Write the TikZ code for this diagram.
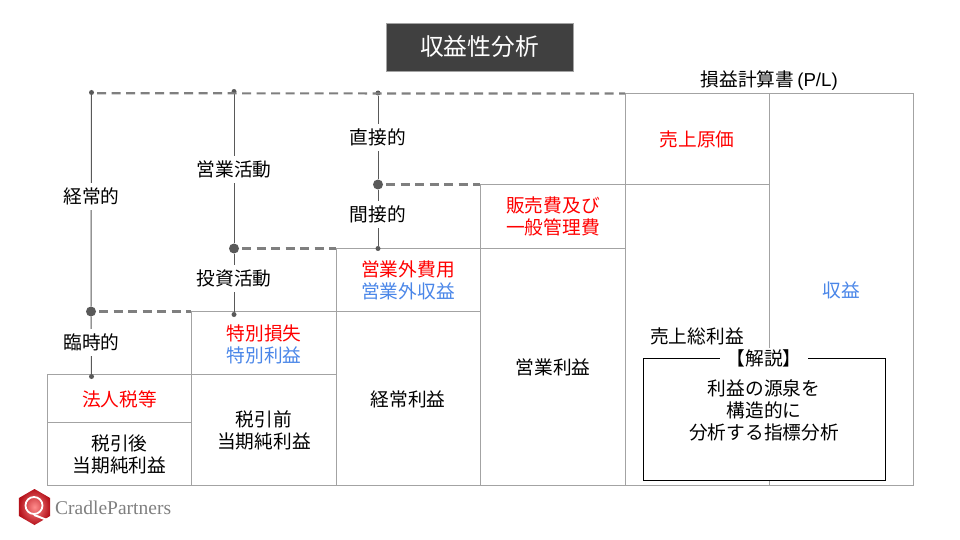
\documentclass[tikz,border=0pt]{standalone}
\usepackage{fontspec}
\usepackage{xcolor}
\setmainfont{Noto Sans CJK JP}
\newfontfamily\logofont{Liberation Serif}
\newfontfamily\latinfont{Liberation Sans}
\definecolor{gridgray}{HTML}{A3A3A3}
\definecolor{stemgray}{HTML}{595959}
\definecolor{dashgray}{HTML}{7F7F7F}
\definecolor{titlegray}{HTML}{404040}
\definecolor{lossred}{HTML}{FF0000}
\definecolor{gainblue}{HTML}{4A86E8}
\definecolor{logored}{HTML}{B5121B}
\usetikzlibrary{shapes.geometric}

\begin{document}
\begin{tikzpicture}[x=1pt,y=-1pt]
	 \tikzstyle{grid}=[draw=gridgray,line width=1pt]
	 \tikzstyle{stem}=[draw=stemgray,line width=1pt]
	 \tikzstyle{level}=[draw=dashgray,line width=2.2pt,dash pattern=on 9pt off 5.5pt]
	 \tikzstyle{small dot}=[circle,minimum size=5pt,inner sep=0pt,fill=stemgray]
	 \tikzstyle{big dot}=[circle,minimum size=10pt,inner sep=0pt,fill=stemgray]
	 \tikzstyle{label}=[font=\fontsize{18.7}{22}\selectfont,align=center,inner sep=0pt,text=black]
	 \tikzstyle{stem label}=[label,fill=white,inner xsep=1pt,inner ysep=5pt]

	 \useasboundingbox (0,0) rectangle (960,540);

	 % table corners
	 \coordinate (a1) at (625,93.5);
	 \coordinate (a2) at (769,93.5);
	 \coordinate (a3) at (913,93.5);
	 \coordinate (b1) at (480,184.5);
	 \coordinate (b2) at (625,184.5);
	 \coordinate (b3) at (769,184.5);
	 \coordinate (c1) at (336,248.5);
	 \coordinate (c2) at (480,248.5);
	 \coordinate (c3) at (625,248.5);
	 \coordinate (d1) at (191,311.5);
	 \coordinate (d2) at (336,311.5);
	 \coordinate (d3) at (480,311.5);
	 \coordinate (e1) at (47,374.5);
	 \coordinate (e2) at (191,374.5);
	 \coordinate (e3) at (336,374.5);
	 \coordinate (f1) at (47,422.5);
	 \coordinate (f2) at (191,422.5);
	 \coordinate (g1) at (47,485.5);
	 \coordinate (g2) at (191,485.5);
	 \coordinate (g3) at (336,485.5);
	 \coordinate (g4) at (480,485.5);
	 \coordinate (g5) at (625,485.5);
	 \coordinate (g6) at (769,485.5);
	 \coordinate (g7) at (913,485.5);

	 \draw[grid] (a1) -- (a3) -- (g7) -- (g1) -- (e1) -- (e3);
	 \draw[grid] (a1) -- (g5);
	 \draw[grid] (a2) -- (g6);
	 \draw[grid] (b1) -- (b3);
	 \draw[grid] (b1) -- (g4);
	 \draw[grid] (c1) -- (c3);
	 \draw[grid] (c1) -- (g3);
	 \draw[grid] (d1) -- (d3);
	 \draw[grid] (d1) -- (g2);
	 \draw[grid] (f1) -- (f2);

	 % dots on the stems
	 \node[small dot] (s1) at (91.5,92.5) {};
	 \node[small dot] (s2) at (234,91.5) {};
	 \node[small dot] (s3) at (378,93) {};
	 \node[big dot] (m3) at (378,184.5) {};
	 \node[small dot] (t3) at (378,248.5) {};
	 \node[big dot] (m2) at (234,248.5) {};
	 \node[small dot] (t2) at (234,314.5) {};
	 \node[big dot] (m1) at (91,311.5) {};
	 \node[small dot] (t1) at (91.5,376.5) {};

	 \draw[stem] (s1) -- (m1) -- (t1);
	 \draw[stem] (s2) -- (m2) -- (t2);
	 \draw[stem] (s3) -- (m3) -- (t3);
	 \draw[level] (s1.east) ++(3,0.8) -- (a1);
	 \draw[level] (m3.east) ++(3,0) -- (b1);
	 \draw[level] (m2.east) ++(3,0) -- (c1);
	 \draw[level] (m1.east) ++(3,0) -- (d1);

	 \node[stem label] (keijo) at (91.5,196.5) {経常的};
	 \node[stem label] (rinji) at (91.5,342.5) {臨時的};
	 \node[stem label] (eigyo) at (234,169.5) {営業活動};
	 \node[stem label] (toshi) at (234,278.5) {投資活動};
	 \node[stem label] (chokusetsu) at (378,137.5) {直接的};
	 \node[stem label] (kansetsu) at (378,214.5) {間接的};

	 % title
	 \node[fill=titlegray,draw=gridgray,line width=0.8pt,minimum width=187pt,minimum height=48pt,text=white,font=\fontsize{23.7}{28}\selectfont] (title) at (479.5,47) {収益性分析};
	 \node[label,anchor=base east] (pl) at (838,87) {損益計算書\,{\latinfont(P/L)}};

	 % table cells
	 \node[label,text=lossred] (genka) at (697,139.5) {売上原価};
	 \node[label,text=lossred] (hanbai) at (553,216.5) {販売費及び\\一般管理費};
	 \node[label,text=gainblue] (shueki) at (841.5,290.5) {収益};
	 \node[label] (sorieki) at (697,336) {売上総利益};
	 \node[label] (eigyorieki) at (553,367.5) {営業利益};
	 \node[label] (keijorieki) at (408,399) {経常利益};
	 \node[label] (zeimae) at (264,430.5) {税引前\\当期純利益};
	 \node[label] (zeigo) at (119.5,454.5) {税引後\\当期純利益};
	 \node[label,text=lossred] (hojin) at (119.5,399.5) {法人税等};
	 \node[label,text=lossred] (gaihi) at (408,269.5) {営業外費用};
	 \node[label,text=gainblue] (gaishu) at (408,291.5) {営業外収益};
	 \node[label,text=lossred] (tokuson) at (264,333.5) {特別損失};
	 \node[label,text=gainblue] (tokueki) at (264,355) {特別利益};

	 % note box
	 \node[draw=black,fill=white,line width=1pt,minimum width=242pt,minimum height=122pt] (note) at (764,419) {};
	 \node[label,fill=white,inner xsep=6.5pt,inner ysep=2pt] (notehead) at (764,358.5) {【解説】};
	 \node[label] (notetext) at (764,410.5) {利益の源泉を\\構造的に\\分析する指標分析};

	 % logo
	 \node[regular polygon,regular polygon sides=6,rotate=30,inner color=red!45!white,outer color=logored,minimum size=36pt,inner sep=0pt] (logo) at (34.5,507) {};
	 \node[circle,draw=white,line width=1.8pt,minimum size=17pt,inner sep=0pt] (logoring) at (34,505.5) {};
	 \coordinate (logotail) at (47,520);
	 \draw[white,line width=2pt] (logoring.south) -- (logotail);
	 \node[anchor=base west,inner sep=0pt,text=dashgray,font=\logofont\fontsize{19.5}{20}\selectfont] (logotext) at (55,514) {CradlePartners};
\end{tikzpicture}
\end{document}
